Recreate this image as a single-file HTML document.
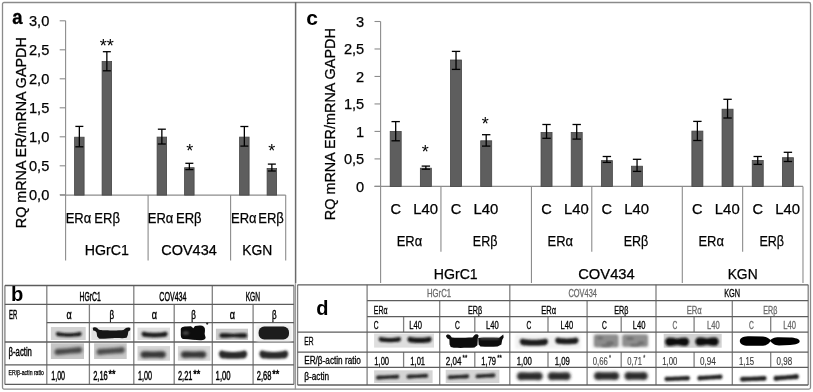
<!DOCTYPE html>
<html><head><meta charset="utf-8"><style>
html,body{margin:0;padding:0;background:#fff;width:813px;height:392px;overflow:hidden}
svg{display:block}
</style></head><body>
<svg width="813" height="392" viewBox="0 0 813 392" font-family='"Liberation Sans", Arial, sans-serif'>
<defs><filter id="bl" x="-20%" y="-50%" width="140%" height="200%"><feGaussianBlur stdDeviation="0.9"/></filter><filter id="bl0" x="-20%" y="-50%" width="140%" height="200%"><feGaussianBlur stdDeviation="0.5"/></filter><filter id="bl2" x="-20%" y="-50%" width="140%" height="200%"><feGaussianBlur stdDeviation="1.4"/></filter></defs>
<rect x="0.00" y="0.00" width="813.00" height="392.00" fill="#fff"/>
<line x1="65.60" y1="20.80" x2="65.60" y2="260.50" stroke="#8c8c8c" stroke-width="1.1"/>
<line x1="59.70" y1="20.80" x2="65.60" y2="20.80" stroke="#8c8c8c" stroke-width="1.1"/>
<text x="49.30" y="26.00" font-size="14.6" text-anchor="end" fill="#000" stroke="#000" stroke-width="0.25">3,0</text>
<line x1="59.70" y1="49.80" x2="65.60" y2="49.80" stroke="#8c8c8c" stroke-width="1.1"/>
<text x="49.30" y="55.00" font-size="14.6" text-anchor="end" fill="#000" stroke="#000" stroke-width="0.25">2,5</text>
<line x1="59.70" y1="78.80" x2="65.60" y2="78.80" stroke="#8c8c8c" stroke-width="1.1"/>
<text x="49.30" y="84.00" font-size="14.6" text-anchor="end" fill="#000" stroke="#000" stroke-width="0.25">2,0</text>
<line x1="59.70" y1="107.80" x2="65.60" y2="107.80" stroke="#8c8c8c" stroke-width="1.1"/>
<text x="49.30" y="113.00" font-size="14.6" text-anchor="end" fill="#000" stroke="#000" stroke-width="0.25">1,5</text>
<line x1="59.70" y1="136.80" x2="65.60" y2="136.80" stroke="#8c8c8c" stroke-width="1.1"/>
<text x="49.30" y="142.00" font-size="14.6" text-anchor="end" fill="#000" stroke="#000" stroke-width="0.25">1,0</text>
<line x1="59.70" y1="165.80" x2="65.60" y2="165.80" stroke="#8c8c8c" stroke-width="1.1"/>
<text x="49.30" y="171.00" font-size="14.6" text-anchor="end" fill="#000" stroke="#000" stroke-width="0.25">0,5</text>
<line x1="59.70" y1="194.80" x2="65.60" y2="194.80" stroke="#8c8c8c" stroke-width="1.1"/>
<text x="49.30" y="200.00" font-size="14.6" text-anchor="end" fill="#000" stroke="#000" stroke-width="0.25">0,0</text>
<line x1="60.00" y1="195.10" x2="285.70" y2="195.10" stroke="#8c8c8c" stroke-width="1.1"/>
<line x1="148.10" y1="195.10" x2="148.10" y2="260.50" stroke="#8c8c8c" stroke-width="1.1"/>
<line x1="230.60" y1="195.10" x2="230.60" y2="260.50" stroke="#8c8c8c" stroke-width="1.1"/>
<line x1="285.70" y1="195.10" x2="285.70" y2="260.50" stroke="#8c8c8c" stroke-width="1.1"/>
<rect x="74.60" y="137.20" width="9.50" height="57.90" fill="#5e5e5e" stroke="#454545" stroke-width="0.8"/>
<line x1="79.35" y1="126.40" x2="79.35" y2="146.80" stroke="#000" stroke-width="1.3"/>
<line x1="75.35" y1="126.40" x2="83.35" y2="126.40" stroke="#000" stroke-width="1.3"/>
<line x1="75.35" y1="146.80" x2="83.35" y2="146.80" stroke="#000" stroke-width="1.3"/>
<rect x="102.10" y="61.50" width="9.50" height="133.60" fill="#5e5e5e" stroke="#454545" stroke-width="0.8"/>
<line x1="106.85" y1="51.70" x2="106.85" y2="70.80" stroke="#000" stroke-width="1.3"/>
<line x1="102.85" y1="51.70" x2="110.85" y2="51.70" stroke="#000" stroke-width="1.3"/>
<line x1="102.85" y1="70.80" x2="110.85" y2="70.80" stroke="#000" stroke-width="1.3"/>
<rect x="157.10" y="137.10" width="9.50" height="58.00" fill="#5e5e5e" stroke="#454545" stroke-width="0.8"/>
<line x1="161.85" y1="129.20" x2="161.85" y2="144.00" stroke="#000" stroke-width="1.3"/>
<line x1="157.85" y1="129.20" x2="165.85" y2="129.20" stroke="#000" stroke-width="1.3"/>
<line x1="157.85" y1="144.00" x2="165.85" y2="144.00" stroke="#000" stroke-width="1.3"/>
<rect x="184.60" y="167.70" width="9.50" height="27.40" fill="#5e5e5e" stroke="#454545" stroke-width="0.8"/>
<line x1="189.35" y1="163.30" x2="189.35" y2="169.60" stroke="#000" stroke-width="1.3"/>
<line x1="185.35" y1="163.30" x2="193.35" y2="163.30" stroke="#000" stroke-width="1.3"/>
<line x1="185.35" y1="169.60" x2="193.35" y2="169.60" stroke="#000" stroke-width="1.3"/>
<rect x="239.60" y="137.10" width="9.50" height="58.00" fill="#5e5e5e" stroke="#454545" stroke-width="0.8"/>
<line x1="244.35" y1="126.50" x2="244.35" y2="146.10" stroke="#000" stroke-width="1.3"/>
<line x1="240.35" y1="126.50" x2="248.35" y2="126.50" stroke="#000" stroke-width="1.3"/>
<line x1="240.35" y1="146.10" x2="248.35" y2="146.10" stroke="#000" stroke-width="1.3"/>
<rect x="267.10" y="168.40" width="9.50" height="26.70" fill="#5e5e5e" stroke="#454545" stroke-width="0.8"/>
<line x1="271.85" y1="164.10" x2="271.85" y2="171.00" stroke="#000" stroke-width="1.3"/>
<line x1="267.85" y1="164.10" x2="275.85" y2="164.10" stroke="#000" stroke-width="1.3"/>
<line x1="267.85" y1="171.00" x2="275.85" y2="171.00" stroke="#000" stroke-width="1.3"/>
<text x="106.85" y="51.50" font-size="18" text-anchor="middle" fill="#000" textLength="14.20" lengthAdjust="spacingAndGlyphs">**</text>
<text x="189.80" y="156.50" font-size="18" text-anchor="middle" fill="#000">*</text>
<text x="271.70" y="157.00" font-size="18" text-anchor="middle" fill="#000">*</text>
<text x="78.50" y="222.70" font-size="14.6" text-anchor="middle" fill="#000" stroke="#000" stroke-width="0.25" textLength="25.60" lengthAdjust="spacingAndGlyphs">ERα</text>
<text x="107.10" y="222.70" font-size="14.6" text-anchor="middle" fill="#000" stroke="#000" stroke-width="0.25" textLength="25.60" lengthAdjust="spacingAndGlyphs">ERβ</text>
<text x="160.60" y="222.70" font-size="14.6" text-anchor="middle" fill="#000" stroke="#000" stroke-width="0.25" textLength="25.60" lengthAdjust="spacingAndGlyphs">ERα</text>
<text x="188.80" y="222.70" font-size="14.6" text-anchor="middle" fill="#000" stroke="#000" stroke-width="0.25" textLength="25.60" lengthAdjust="spacingAndGlyphs">ERβ</text>
<text x="243.80" y="222.70" font-size="14.6" text-anchor="middle" fill="#000" stroke="#000" stroke-width="0.25" textLength="25.60" lengthAdjust="spacingAndGlyphs">ERα</text>
<text x="271.00" y="222.70" font-size="14.6" text-anchor="middle" fill="#000" stroke="#000" stroke-width="0.25" textLength="25.60" lengthAdjust="spacingAndGlyphs">ERβ</text>
<text x="106.85" y="254.90" font-size="14.6" text-anchor="middle" fill="#000" stroke="#000" stroke-width="0.25" textLength="44.20" lengthAdjust="spacingAndGlyphs">HGrC1</text>
<text x="189.00" y="254.90" font-size="14.6" text-anchor="middle" fill="#000" stroke="#000" stroke-width="0.25" textLength="55.50" lengthAdjust="spacingAndGlyphs">COV434</text>
<text x="257.30" y="254.90" font-size="14.6" text-anchor="middle" fill="#000" stroke="#000" stroke-width="0.25" textLength="30.00" lengthAdjust="spacingAndGlyphs">KGN</text>
<text transform="translate(26,228.2) rotate(-90)" font-size="14.6" textLength="191" lengthAdjust="spacingAndGlyphs" stroke="#000" stroke-width="0.25">RQ mRNA ER/mRNA GAPDH</text>
<text x="12.20" y="23.60" font-size="19.5" text-anchor="start" fill="#000" stroke="#000" stroke-width="0.3" font-weight="bold" textLength="10.30" lengthAdjust="spacingAndGlyphs">a</text>
<line x1="380.60" y1="21.50" x2="380.60" y2="283.00" stroke="#8c8c8c" stroke-width="1.1"/>
<line x1="374.50" y1="21.50" x2="380.60" y2="21.50" stroke="#8c8c8c" stroke-width="1.1"/>
<text x="364.20" y="26.70" font-size="14.6" text-anchor="end" fill="#000" stroke="#000" stroke-width="0.25">3</text>
<line x1="374.50" y1="48.98" x2="380.60" y2="48.98" stroke="#8c8c8c" stroke-width="1.1"/>
<text x="364.20" y="54.18" font-size="14.6" text-anchor="end" fill="#000" stroke="#000" stroke-width="0.25">2,5</text>
<line x1="374.50" y1="76.46" x2="380.60" y2="76.46" stroke="#8c8c8c" stroke-width="1.1"/>
<text x="364.20" y="81.66" font-size="14.6" text-anchor="end" fill="#000" stroke="#000" stroke-width="0.25">2</text>
<line x1="374.50" y1="103.94" x2="380.60" y2="103.94" stroke="#8c8c8c" stroke-width="1.1"/>
<text x="364.20" y="109.14" font-size="14.6" text-anchor="end" fill="#000" stroke="#000" stroke-width="0.25">1,5</text>
<line x1="374.50" y1="131.42" x2="380.60" y2="131.42" stroke="#8c8c8c" stroke-width="1.1"/>
<text x="364.20" y="136.62" font-size="14.6" text-anchor="end" fill="#000" stroke="#000" stroke-width="0.25">1</text>
<line x1="374.50" y1="158.90" x2="380.60" y2="158.90" stroke="#8c8c8c" stroke-width="1.1"/>
<text x="364.20" y="164.10" font-size="14.6" text-anchor="end" fill="#000" stroke="#000" stroke-width="0.25">0,5</text>
<line x1="374.50" y1="186.38" x2="380.60" y2="186.38" stroke="#8c8c8c" stroke-width="1.1"/>
<text x="364.20" y="191.58" font-size="14.6" text-anchor="end" fill="#000" stroke="#000" stroke-width="0.25">0</text>
<line x1="374.50" y1="186.40" x2="802.98" y2="186.40" stroke="#8c8c8c" stroke-width="1.1"/>
<line x1="531.45" y1="186.40" x2="531.45" y2="283.00" stroke="#8c8c8c" stroke-width="1.1"/>
<line x1="682.30" y1="186.40" x2="682.30" y2="283.00" stroke="#8c8c8c" stroke-width="1.1"/>
<line x1="802.98" y1="186.40" x2="802.98" y2="283.00" stroke="#8c8c8c" stroke-width="1.1"/>
<line x1="440.94" y1="186.40" x2="440.94" y2="251.80" stroke="#8c8c8c" stroke-width="1.1"/>
<line x1="591.79" y1="186.40" x2="591.79" y2="251.80" stroke="#8c8c8c" stroke-width="1.1"/>
<line x1="742.64" y1="186.40" x2="742.64" y2="251.80" stroke="#8c8c8c" stroke-width="1.1"/>
<rect x="390.19" y="131.40" width="11.00" height="55.00" fill="#5e5e5e" stroke="#454545" stroke-width="0.8"/>
<line x1="395.69" y1="121.60" x2="395.69" y2="140.80" stroke="#000" stroke-width="1.3"/>
<line x1="391.49" y1="121.60" x2="399.88" y2="121.60" stroke="#000" stroke-width="1.3"/>
<line x1="391.49" y1="140.80" x2="399.88" y2="140.80" stroke="#000" stroke-width="1.3"/>
<rect x="420.36" y="168.20" width="11.00" height="18.20" fill="#5e5e5e" stroke="#454545" stroke-width="0.8"/>
<line x1="425.86" y1="166.10" x2="425.86" y2="169.20" stroke="#000" stroke-width="1.3"/>
<line x1="421.66" y1="166.10" x2="430.06" y2="166.10" stroke="#000" stroke-width="1.3"/>
<line x1="421.66" y1="169.20" x2="430.06" y2="169.20" stroke="#000" stroke-width="1.3"/>
<rect x="450.53" y="60.00" width="11.00" height="126.40" fill="#5e5e5e" stroke="#454545" stroke-width="0.8"/>
<line x1="456.03" y1="51.40" x2="456.03" y2="69.40" stroke="#000" stroke-width="1.3"/>
<line x1="451.83" y1="51.40" x2="460.23" y2="51.40" stroke="#000" stroke-width="1.3"/>
<line x1="451.83" y1="69.40" x2="460.23" y2="69.40" stroke="#000" stroke-width="1.3"/>
<rect x="480.70" y="140.80" width="11.00" height="45.60" fill="#5e5e5e" stroke="#454545" stroke-width="0.8"/>
<line x1="486.20" y1="134.70" x2="486.20" y2="146.10" stroke="#000" stroke-width="1.3"/>
<line x1="482.00" y1="134.70" x2="490.40" y2="134.70" stroke="#000" stroke-width="1.3"/>
<line x1="482.00" y1="146.10" x2="490.40" y2="146.10" stroke="#000" stroke-width="1.3"/>
<rect x="541.04" y="132.50" width="11.00" height="53.90" fill="#5e5e5e" stroke="#454545" stroke-width="0.8"/>
<line x1="546.54" y1="124.50" x2="546.54" y2="138.30" stroke="#000" stroke-width="1.3"/>
<line x1="542.34" y1="124.50" x2="550.74" y2="124.50" stroke="#000" stroke-width="1.3"/>
<line x1="542.34" y1="138.30" x2="550.74" y2="138.30" stroke="#000" stroke-width="1.3"/>
<rect x="571.21" y="132.50" width="11.00" height="53.90" fill="#5e5e5e" stroke="#454545" stroke-width="0.8"/>
<line x1="576.71" y1="124.50" x2="576.71" y2="139.10" stroke="#000" stroke-width="1.3"/>
<line x1="572.50" y1="124.50" x2="580.91" y2="124.50" stroke="#000" stroke-width="1.3"/>
<line x1="572.50" y1="139.10" x2="580.91" y2="139.10" stroke="#000" stroke-width="1.3"/>
<rect x="601.38" y="160.60" width="11.00" height="25.80" fill="#5e5e5e" stroke="#454545" stroke-width="0.8"/>
<line x1="606.88" y1="156.50" x2="606.88" y2="162.40" stroke="#000" stroke-width="1.3"/>
<line x1="602.67" y1="156.50" x2="611.08" y2="156.50" stroke="#000" stroke-width="1.3"/>
<line x1="602.67" y1="162.40" x2="611.08" y2="162.40" stroke="#000" stroke-width="1.3"/>
<rect x="631.55" y="166.20" width="11.00" height="20.20" fill="#5e5e5e" stroke="#454545" stroke-width="0.8"/>
<line x1="637.05" y1="159.30" x2="637.05" y2="171.40" stroke="#000" stroke-width="1.3"/>
<line x1="632.85" y1="159.30" x2="641.25" y2="159.30" stroke="#000" stroke-width="1.3"/>
<line x1="632.85" y1="171.40" x2="641.25" y2="171.40" stroke="#000" stroke-width="1.3"/>
<rect x="691.88" y="131.10" width="11.00" height="55.30" fill="#5e5e5e" stroke="#454545" stroke-width="0.8"/>
<line x1="697.38" y1="121.40" x2="697.38" y2="140.50" stroke="#000" stroke-width="1.3"/>
<line x1="693.18" y1="121.40" x2="701.59" y2="121.40" stroke="#000" stroke-width="1.3"/>
<line x1="693.18" y1="140.50" x2="701.59" y2="140.50" stroke="#000" stroke-width="1.3"/>
<rect x="722.06" y="109.20" width="11.00" height="77.20" fill="#5e5e5e" stroke="#454545" stroke-width="0.8"/>
<line x1="727.56" y1="99.30" x2="727.56" y2="118.00" stroke="#000" stroke-width="1.3"/>
<line x1="723.36" y1="99.30" x2="731.76" y2="99.30" stroke="#000" stroke-width="1.3"/>
<line x1="723.36" y1="118.00" x2="731.76" y2="118.00" stroke="#000" stroke-width="1.3"/>
<rect x="752.23" y="160.50" width="11.00" height="25.90" fill="#5e5e5e" stroke="#454545" stroke-width="0.8"/>
<line x1="757.73" y1="156.50" x2="757.73" y2="164.40" stroke="#000" stroke-width="1.3"/>
<line x1="753.52" y1="156.50" x2="761.93" y2="156.50" stroke="#000" stroke-width="1.3"/>
<line x1="753.52" y1="164.40" x2="761.93" y2="164.40" stroke="#000" stroke-width="1.3"/>
<rect x="782.39" y="157.70" width="11.00" height="28.70" fill="#5e5e5e" stroke="#454545" stroke-width="0.8"/>
<line x1="787.89" y1="152.30" x2="787.89" y2="161.50" stroke="#000" stroke-width="1.3"/>
<line x1="783.69" y1="152.30" x2="792.10" y2="152.30" stroke="#000" stroke-width="1.3"/>
<line x1="783.69" y1="161.50" x2="792.10" y2="161.50" stroke="#000" stroke-width="1.3"/>
<text x="425.20" y="157.60" font-size="18" text-anchor="middle" fill="#000">*</text>
<text x="485.30" y="130.20" font-size="18" text-anchor="middle" fill="#000">*</text>
<text x="395.69" y="214.30" font-size="14.6" text-anchor="middle" fill="#000" stroke="#000" stroke-width="0.25">C</text>
<text x="425.56" y="214.30" font-size="14.6" text-anchor="middle" fill="#000" stroke="#000" stroke-width="0.25" textLength="24.80" lengthAdjust="spacingAndGlyphs">L40</text>
<text x="456.03" y="214.30" font-size="14.6" text-anchor="middle" fill="#000" stroke="#000" stroke-width="0.25">C</text>
<text x="485.90" y="214.30" font-size="14.6" text-anchor="middle" fill="#000" stroke="#000" stroke-width="0.25" textLength="24.80" lengthAdjust="spacingAndGlyphs">L40</text>
<text x="409.47" y="246.40" font-size="14.6" text-anchor="middle" fill="#000" stroke="#000" stroke-width="0.25" textLength="25.50" lengthAdjust="spacingAndGlyphs">ERα</text>
<text x="485.10" y="246.40" font-size="14.6" text-anchor="middle" fill="#000" stroke="#000" stroke-width="0.25" textLength="24.60" lengthAdjust="spacingAndGlyphs">ERβ</text>
<text x="546.54" y="214.30" font-size="14.6" text-anchor="middle" fill="#000" stroke="#000" stroke-width="0.25">C</text>
<text x="576.41" y="214.30" font-size="14.6" text-anchor="middle" fill="#000" stroke="#000" stroke-width="0.25" textLength="24.80" lengthAdjust="spacingAndGlyphs">L40</text>
<text x="606.88" y="214.30" font-size="14.6" text-anchor="middle" fill="#000" stroke="#000" stroke-width="0.25">C</text>
<text x="636.75" y="214.30" font-size="14.6" text-anchor="middle" fill="#000" stroke="#000" stroke-width="0.25" textLength="24.80" lengthAdjust="spacingAndGlyphs">L40</text>
<text x="560.32" y="246.40" font-size="14.6" text-anchor="middle" fill="#000" stroke="#000" stroke-width="0.25" textLength="25.50" lengthAdjust="spacingAndGlyphs">ERα</text>
<text x="635.95" y="246.40" font-size="14.6" text-anchor="middle" fill="#000" stroke="#000" stroke-width="0.25" textLength="24.60" lengthAdjust="spacingAndGlyphs">ERβ</text>
<text x="697.38" y="214.30" font-size="14.6" text-anchor="middle" fill="#000" stroke="#000" stroke-width="0.25">C</text>
<text x="727.26" y="214.30" font-size="14.6" text-anchor="middle" fill="#000" stroke="#000" stroke-width="0.25" textLength="24.80" lengthAdjust="spacingAndGlyphs">L40</text>
<text x="757.73" y="214.30" font-size="14.6" text-anchor="middle" fill="#000" stroke="#000" stroke-width="0.25">C</text>
<text x="787.60" y="214.30" font-size="14.6" text-anchor="middle" fill="#000" stroke="#000" stroke-width="0.25" textLength="24.80" lengthAdjust="spacingAndGlyphs">L40</text>
<text x="711.17" y="246.40" font-size="14.6" text-anchor="middle" fill="#000" stroke="#000" stroke-width="0.25" textLength="25.50" lengthAdjust="spacingAndGlyphs">ERα</text>
<text x="771.71" y="246.40" font-size="14.6" text-anchor="middle" fill="#000" stroke="#000" stroke-width="0.25" textLength="24.60" lengthAdjust="spacingAndGlyphs">ERβ</text>
<text x="455.73" y="279.20" font-size="14.6" text-anchor="middle" fill="#000" stroke="#000" stroke-width="0.25" textLength="44.00" lengthAdjust="spacingAndGlyphs">HGrC1</text>
<text x="606.48" y="279.20" font-size="14.6" text-anchor="middle" fill="#000" stroke="#000" stroke-width="0.25" textLength="56.50" lengthAdjust="spacingAndGlyphs">COV434</text>
<text x="742.64" y="279.20" font-size="14.6" text-anchor="middle" fill="#000" stroke="#000" stroke-width="0.25" textLength="30.00" lengthAdjust="spacingAndGlyphs">KGN</text>
<text transform="translate(335.4,220.2) rotate(-90)" font-size="14.6" textLength="192" lengthAdjust="spacingAndGlyphs" stroke="#000" stroke-width="0.25">RQ mRNA ER/mRNA GAPDH</text>
<text x="306.20" y="25.00" font-size="21" text-anchor="start" fill="#000" font-weight="bold">c</text>
<rect x="2.5" y="2.5" width="808" height="386.6" fill="none" stroke="#8a8a8a" stroke-width="1.3" rx="1.5"/>
<line x1="295.60" y1="2.00" x2="295.60" y2="283.20" stroke="#6a6a6a" stroke-width="1.5"/>
<line x1="295.40" y1="283.20" x2="295.40" y2="389.50" stroke="#9a9a9a" stroke-width="1.3"/>
<line x1="4.90" y1="285.50" x2="4.90" y2="384.40" stroke="#808080" stroke-width="1.3"/>
<line x1="46.80" y1="285.50" x2="46.80" y2="384.40" stroke="#808080" stroke-width="1.3"/>
<line x1="89.40" y1="304.40" x2="89.40" y2="384.40" stroke="#808080" stroke-width="1.3"/>
<line x1="133.80" y1="285.50" x2="133.80" y2="384.40" stroke="#808080" stroke-width="1.3"/>
<line x1="174.20" y1="304.40" x2="174.20" y2="384.40" stroke="#808080" stroke-width="1.3"/>
<line x1="212.30" y1="285.50" x2="212.30" y2="384.40" stroke="#808080" stroke-width="1.3"/>
<line x1="253.10" y1="304.40" x2="253.10" y2="384.40" stroke="#808080" stroke-width="1.3"/>
<line x1="293.90" y1="285.50" x2="293.90" y2="384.40" stroke="#808080" stroke-width="1.3"/>
<line x1="4.90" y1="285.50" x2="293.90" y2="285.50" stroke="#5c5c5c" stroke-width="1.3"/>
<line x1="4.90" y1="304.40" x2="293.90" y2="304.40" stroke="#5c5c5c" stroke-width="1.3"/>
<line x1="46.80" y1="322.70" x2="293.90" y2="322.70" stroke="#5c5c5c" stroke-width="1.3"/>
<line x1="4.90" y1="342.00" x2="293.90" y2="342.00" stroke="#5c5c5c" stroke-width="1.3"/>
<line x1="4.90" y1="364.90" x2="293.90" y2="364.90" stroke="#5c5c5c" stroke-width="1.3"/>
<line x1="4.90" y1="384.40" x2="293.90" y2="384.40" stroke="#5c5c5c" stroke-width="1.3"/>
<text x="11.00" y="300.60" font-size="19.6" text-anchor="start" fill="#000" font-weight="bold" textLength="12.30" lengthAdjust="spacingAndGlyphs">b</text>
<text x="90.10" y="300.70" font-size="12.6" text-anchor="middle" fill="#000" textLength="21.20" lengthAdjust="spacingAndGlyphs" stroke="#000" stroke-width="0.45">HGrC1</text>
<text x="172.90" y="300.70" font-size="12.6" text-anchor="middle" fill="#000" textLength="27.20" lengthAdjust="spacingAndGlyphs" stroke="#000" stroke-width="0.45">COV434</text>
<text x="252.90" y="300.70" font-size="12.6" text-anchor="middle" fill="#000" textLength="14.40" lengthAdjust="spacingAndGlyphs" stroke="#000" stroke-width="0.45">KGN</text>
<text x="8.90" y="318.60" font-size="12.4" text-anchor="start" fill="#000" textLength="8.30" lengthAdjust="spacingAndGlyphs" stroke="#000" stroke-width="0.45">ER</text>
<text x="69.00" y="318.50" font-size="12.6" text-anchor="middle" fill="#000" textLength="5.20" lengthAdjust="spacingAndGlyphs" stroke="#000" stroke-width="0.45">α</text>
<text x="111.70" y="318.50" font-size="12.6" text-anchor="middle" fill="#000" textLength="4.60" lengthAdjust="spacingAndGlyphs" stroke="#000" stroke-width="0.45">β</text>
<text x="154.30" y="318.50" font-size="12.6" text-anchor="middle" fill="#000" textLength="5.20" lengthAdjust="spacingAndGlyphs" stroke="#000" stroke-width="0.45">α</text>
<text x="193.60" y="318.50" font-size="12.6" text-anchor="middle" fill="#000" textLength="4.60" lengthAdjust="spacingAndGlyphs" stroke="#000" stroke-width="0.45">β</text>
<text x="232.30" y="318.50" font-size="12.6" text-anchor="middle" fill="#000" textLength="5.20" lengthAdjust="spacingAndGlyphs" stroke="#000" stroke-width="0.45">α</text>
<text x="274.30" y="318.50" font-size="12.6" text-anchor="middle" fill="#000" textLength="4.60" lengthAdjust="spacingAndGlyphs" stroke="#000" stroke-width="0.45">β</text>
<text x="8.60" y="356.40" font-size="12.4" text-anchor="start" fill="#000" textLength="23.30" lengthAdjust="spacingAndGlyphs" stroke="#000" stroke-width="0.45">β-actin</text>
<text x="8.60" y="375.00" font-size="6.6" text-anchor="start" fill="#000" stroke="#000" stroke-width="0.25" textLength="35.20" lengthAdjust="spacingAndGlyphs">ER/β-actin ratio</text>
<text x="51.20" y="380.00" font-size="12.6" text-anchor="start" fill="#000" textLength="13.90" lengthAdjust="spacingAndGlyphs" stroke="#000" stroke-width="0.45">1,00</text>
<text x="93.20" y="380.00" font-size="12.6" text-anchor="start" fill="#000" textLength="14.60" lengthAdjust="spacingAndGlyphs" stroke="#000" stroke-width="0.45">2,16</text>
<text x="108.60" y="378.20" font-size="11" text-anchor="start" fill="#000" textLength="7.00" lengthAdjust="spacingAndGlyphs" stroke="#000" stroke-width="0.45">**</text>
<text x="137.90" y="380.00" font-size="12.6" text-anchor="start" fill="#000" textLength="14.10" lengthAdjust="spacingAndGlyphs" stroke="#000" stroke-width="0.45">1,00</text>
<text x="178.00" y="380.00" font-size="12.6" text-anchor="start" fill="#000" textLength="14.40" lengthAdjust="spacingAndGlyphs" stroke="#000" stroke-width="0.45">2,21</text>
<text x="193.20" y="378.20" font-size="11" text-anchor="start" fill="#000" textLength="7.00" lengthAdjust="spacingAndGlyphs" stroke="#000" stroke-width="0.45">**</text>
<text x="215.60" y="380.00" font-size="12.6" text-anchor="start" fill="#000" textLength="15.00" lengthAdjust="spacingAndGlyphs" stroke="#000" stroke-width="0.45">1,00</text>
<text x="256.80" y="380.00" font-size="12.6" text-anchor="start" fill="#000" textLength="14.60" lengthAdjust="spacingAndGlyphs" stroke="#000" stroke-width="0.45">2,68</text>
<text x="272.20" y="378.20" font-size="11" text-anchor="start" fill="#000" textLength="7.00" lengthAdjust="spacingAndGlyphs" stroke="#000" stroke-width="0.45">**</text>
<rect x="50.90" y="327.00" width="34.80" height="13.00" fill="#d2d2d2" filter="url(#bl0)"/>
<path d="M55.80,333.70 L56.88,332.06 L57.97,332.05 L59.05,332.29 L60.13,332.50 L61.22,332.69 L62.30,332.85 L63.38,332.99 L64.47,333.10 L65.55,333.19 L66.63,333.25 L67.72,333.29 L68.80,333.30 L69.88,333.29 L70.97,333.25 L72.05,333.19 L73.13,333.10 L74.22,332.99 L75.30,332.85 L76.38,332.69 L77.47,332.50 L78.55,332.29 L79.63,332.05 L80.72,332.06 L81.80,333.70 L81.80,333.70 L80.72,335.76 L79.63,336.14 L78.55,336.25 L77.47,336.34 L76.38,336.43 L75.30,336.50 L74.22,336.56 L73.13,336.61 L72.05,336.65 L70.97,336.68 L69.88,336.69 L68.80,336.70 L67.72,336.69 L66.63,336.68 L65.55,336.65 L64.47,336.61 L63.38,336.56 L62.30,336.50 L61.22,336.43 L60.13,336.34 L59.05,336.25 L57.97,336.14 L56.88,335.76 L55.80,333.70Z" fill="#141414" filter="url(#bl)"/>
<rect x="91.30" y="327.00" width="39.30" height="13.00" fill="#e2e2e2" filter="url(#bl0)"/>
<path d="M92.8,328.6 C92.8,327.2 95.5,326.9 97.2,327.9 L98.6,329.6 C100,330.4 104,330.2 110,330.4 C116,330.6 120,330.2 123.5,330 L125.2,328.4 C126.8,327.2 130,327 130.4,328.4 L130.2,330.2 L128.3,331.6 L127.8,335 L126.6,337.8 C122,338.6 118,337.6 112,338.3 C106,338.9 101,338.8 99,338.4 L97.2,336.6 L96.6,332.5 L95.2,331 L93.2,330.4 Z" fill="#181818" filter="url(#bl0)"/>
<rect x="137.50" y="327.60" width="32.50" height="12.40" fill="#dedede" filter="url(#bl0)"/>
<path d="M141.40,333.80 L142.50,331.87 L143.60,331.65 L144.70,331.84 L145.80,332.04 L146.90,332.22 L148.00,332.38 L149.10,332.50 L150.20,332.61 L151.30,332.69 L152.40,332.75 L153.50,332.79 L154.60,332.80 L155.70,332.79 L156.80,332.75 L157.90,332.69 L159.00,332.61 L160.10,332.50 L161.20,332.38 L162.30,332.22 L163.40,332.04 L164.50,331.84 L165.60,331.65 L166.70,331.87 L167.80,333.80 L167.80,333.80 L166.70,336.15 L165.60,336.75 L164.50,336.89 L163.40,337.00 L162.30,337.09 L161.20,337.18 L160.10,337.24 L159.00,337.30 L157.90,337.34 L156.80,337.38 L155.70,337.39 L154.60,337.40 L153.50,337.39 L152.40,337.38 L151.30,337.34 L150.20,337.30 L149.10,337.24 L148.00,337.18 L146.90,337.09 L145.80,337.00 L144.70,336.89 L143.60,336.75 L142.50,336.15 L141.40,333.80Z" fill="#1e1e1e" filter="url(#bl)"/>
<path d="M180.8,330 C180.5,327.5 183,326.6 186,326.6 L191,326.3 L193.3,328.3 L195,326 L200,325.5 C203.5,325.5 205,327 205,330 L204.6,334 L205.6,337.6 C205.5,340 203,340.4 200,340.2 L193,339.7 L188,339.3 L183,339 C181,338.6 180.6,336 180.8,333 Z" fill="#080808" filter="url(#bl0)"/>
<ellipse cx="185.8" cy="333" rx="3.2" ry="1.8" fill="#4a4a4a" filter="url(#bl)"/><circle cx="207.2" cy="323.6" r="1.1" fill="#222" filter="url(#bl0)"/>
<rect x="215.90" y="328.70" width="32.10" height="11.30" fill="#cacaca" filter="url(#bl0)"/>
<path d="M219.30,335.50 L220.47,333.47 L221.64,333.19 L222.81,333.23 L223.98,333.27 L225.15,333.30 L226.33,333.33 L227.50,333.37 L228.67,333.43 L229.84,333.51 L231.01,333.62 L232.18,333.71 L233.35,333.75 L234.52,333.71 L235.69,333.62 L236.86,333.51 L238.03,333.43 L239.20,333.37 L240.38,333.33 L241.55,333.30 L242.72,333.27 L243.89,333.23 L245.06,333.19 L246.23,333.47 L247.40,335.50 L247.40,335.50 L246.23,337.53 L245.06,337.81 L243.89,337.77 L242.72,337.73 L241.55,337.70 L240.38,337.67 L239.20,337.63 L238.03,337.57 L236.86,337.49 L235.69,337.38 L234.52,337.29 L233.35,337.25 L232.18,337.29 L231.01,337.38 L229.84,337.49 L228.67,337.57 L227.50,337.63 L226.33,337.67 L225.15,337.70 L223.98,337.73 L222.81,337.77 L221.64,337.81 L220.47,337.53 L219.30,335.50Z" fill="#161616" filter="url(#bl)"/>
<rect x="256.50" y="325.00" width="35.00" height="16.50" fill="#ececec" filter="url(#bl2)"/>
<rect x="258.60" y="326.60" width="30.40" height="12.80" rx="5.5" fill="#1c1c1c" filter="url(#bl0)"/>
<rect x="50.90" y="343.30" width="33.10" height="15.70" fill="#c6c6c6" filter="url(#bl0)"/>
<path d="M54.30,352.20 L55.47,349.62 L56.64,348.96 L57.81,348.82 L58.98,348.78 L60.15,348.73 L61.33,348.68 L62.50,348.61 L63.67,348.54 L64.84,348.47 L66.01,348.39 L67.18,348.30 L68.35,348.20 L69.52,348.10 L70.69,347.99 L71.86,347.87 L73.03,347.74 L74.20,347.61 L75.38,347.47 L76.55,347.33 L77.72,347.18 L78.89,347.02 L80.06,346.96 L81.23,347.42 L82.40,349.80 L82.40,349.80 L81.23,352.38 L80.06,353.04 L78.89,353.18 L77.72,353.22 L76.55,353.27 L75.38,353.32 L74.20,353.39 L73.03,353.46 L71.86,353.53 L70.69,353.61 L69.52,353.70 L68.35,353.80 L67.18,353.90 L66.01,354.01 L64.84,354.13 L63.67,354.26 L62.50,354.39 L61.33,354.53 L60.15,354.67 L58.98,354.82 L57.81,354.98 L56.64,355.04 L55.47,354.58 L54.30,352.20Z" fill="#474747" filter="url(#bl2)"/>
<rect x="94.10" y="343.30" width="32.60" height="15.70" fill="#c8c8c8" filter="url(#bl0)"/>
<path d="M96.40,352.10 L97.59,349.51 L98.78,348.86 L99.98,348.74 L101.17,348.71 L102.36,348.67 L103.55,348.62 L104.74,348.57 L105.93,348.51 L107.12,348.44 L108.32,348.37 L109.51,348.29 L110.70,348.20 L111.89,348.10 L113.08,348.00 L114.28,347.89 L115.47,347.78 L116.66,347.65 L117.85,347.52 L119.04,347.39 L120.23,347.24 L121.42,347.09 L122.62,347.03 L123.81,347.49 L125.00,349.90 L125.00,349.90 L123.81,352.49 L122.62,353.14 L121.42,353.26 L120.23,353.29 L119.04,353.33 L117.85,353.38 L116.66,353.43 L115.47,353.49 L114.28,353.56 L113.08,353.63 L111.89,353.71 L110.70,353.80 L109.51,353.90 L108.32,354.00 L107.12,354.11 L105.93,354.22 L104.74,354.35 L103.55,354.48 L102.36,354.61 L101.17,354.76 L99.98,354.91 L98.78,354.97 L97.59,354.51 L96.40,352.10Z" fill="#4a4a4a" filter="url(#bl2)"/>
<rect x="137.50" y="346.10" width="32.50" height="14.60" fill="#d4d4d4" filter="url(#bl0)"/>
<path d="M140.30,354.60 L141.38,352.10 L142.45,351.43 L143.53,351.23 L144.60,351.27 L145.68,351.30 L146.75,351.33 L147.83,351.35 L148.90,351.37 L149.97,351.38 L151.05,351.39 L152.12,351.40 L153.20,351.40 L154.28,351.40 L155.35,351.39 L156.43,351.38 L157.50,351.37 L158.57,351.35 L159.65,351.33 L160.72,351.30 L161.80,351.27 L162.88,351.23 L163.95,351.43 L165.03,352.10 L166.10,354.60 L166.10,354.60 L165.03,357.10 L163.95,357.77 L162.88,357.97 L161.80,357.93 L160.72,357.90 L159.65,357.88 L158.57,357.85 L157.50,357.83 L156.43,357.82 L155.35,357.81 L154.28,357.80 L153.20,357.80 L152.12,357.80 L151.05,357.81 L149.97,357.82 L148.90,357.83 L147.83,357.85 L146.75,357.88 L145.68,357.90 L144.60,357.93 L143.53,357.97 L142.45,357.77 L141.38,357.10 L140.30,354.60Z" fill="#363636" filter="url(#bl2)"/>
<rect x="177.90" y="346.10" width="32.50" height="14.60" fill="#d8d8d8" filter="url(#bl0)"/>
<path d="M180.70,354.60 L181.77,352.10 L182.85,351.43 L183.92,351.23 L185.00,351.27 L186.07,351.30 L187.15,351.33 L188.22,351.35 L189.30,351.37 L190.38,351.38 L191.45,351.39 L192.53,351.40 L193.60,351.40 L194.67,351.40 L195.75,351.39 L196.82,351.38 L197.90,351.37 L198.97,351.35 L200.05,351.33 L201.12,351.30 L202.20,351.27 L203.28,351.23 L204.35,351.43 L205.43,352.10 L206.50,354.60 L206.50,354.60 L205.43,357.10 L204.35,357.77 L203.28,357.97 L202.20,357.93 L201.12,357.90 L200.05,357.88 L198.97,357.85 L197.90,357.83 L196.82,357.82 L195.75,357.81 L194.67,357.80 L193.60,357.80 L192.53,357.80 L191.45,357.81 L190.38,357.82 L189.30,357.83 L188.22,357.85 L187.15,357.88 L186.07,357.90 L185.00,357.93 L183.92,357.97 L182.85,357.77 L181.77,357.10 L180.70,354.60Z" fill="#363636" filter="url(#bl2)"/>
<path d="M218.70,353.80 L219.90,351.14 L221.09,350.61 L222.29,350.61 L223.48,350.89 L224.68,351.15 L225.88,351.38 L227.07,351.57 L228.27,351.72 L229.46,351.84 L230.66,351.93 L231.85,351.98 L233.05,352.00 L234.25,351.98 L235.44,351.93 L236.64,351.84 L237.83,351.72 L239.03,351.57 L240.22,351.38 L241.42,351.15 L242.62,350.89 L243.81,350.61 L245.01,350.61 L246.20,351.14 L247.40,353.80 L247.40,353.80 L246.20,356.97 L245.01,357.97 L243.81,358.39 L242.62,358.49 L241.42,358.56 L240.22,358.62 L239.03,358.68 L237.83,358.72 L236.64,358.76 L235.44,358.78 L234.25,358.80 L233.05,358.80 L231.85,358.80 L230.66,358.78 L229.46,358.76 L228.27,358.72 L227.07,358.68 L225.88,358.62 L224.68,358.56 L223.48,358.49 L222.29,358.39 L221.09,357.97 L219.90,356.97 L218.70,353.80Z" fill="#2a2a2a" filter="url(#bl)"/>
<path d="M259.20,353.80 L260.42,351.12 L261.63,350.59 L262.85,350.60 L264.07,350.89 L265.28,351.15 L266.50,351.38 L267.72,351.57 L268.93,351.72 L270.15,351.84 L271.37,351.93 L272.58,351.98 L273.80,352.00 L275.02,351.98 L276.23,351.93 L277.45,351.84 L278.67,351.72 L279.88,351.57 L281.10,351.38 L282.32,351.15 L283.53,350.89 L284.75,350.60 L285.97,350.59 L287.18,351.12 L288.40,353.80 L288.40,353.80 L287.18,356.99 L285.97,357.99 L284.75,358.40 L283.53,358.49 L282.32,358.56 L281.10,358.62 L279.88,358.68 L278.67,358.72 L277.45,358.76 L276.23,358.78 L275.02,358.80 L273.80,358.80 L272.58,358.80 L271.37,358.78 L270.15,358.76 L268.93,358.72 L267.72,358.68 L266.50,358.62 L265.28,358.56 L264.07,358.49 L262.85,358.40 L261.63,357.99 L260.42,356.99 L259.20,353.80Z" fill="#2a2a2a" filter="url(#bl)"/>
<rect x="374.10" y="333.60" width="59.90" height="14.00" fill="#dedede" filter="url(#bl0)"/>
<path d="M378.50,338.90 L379.45,337.21 L380.39,337.00 L381.34,337.16 L382.28,337.33 L383.23,337.49 L384.18,337.62 L385.12,337.74 L386.07,337.83 L387.01,337.91 L387.96,337.96 L388.90,337.99 L389.85,338.00 L390.80,337.99 L391.74,337.96 L392.69,337.91 L393.63,337.83 L394.58,337.74 L395.52,337.62 L396.47,337.49 L397.42,337.33 L398.36,337.16 L399.31,337.00 L400.25,337.21 L401.20,338.90 L401.20,338.90 L400.25,340.98 L399.31,341.54 L398.36,341.69 L397.42,341.80 L396.47,341.89 L395.52,341.98 L394.58,342.04 L393.63,342.10 L392.69,342.14 L391.74,342.18 L390.80,342.19 L389.85,342.20 L388.90,342.19 L387.96,342.18 L387.01,342.14 L386.07,342.10 L385.12,342.04 L384.18,341.98 L383.23,341.89 L382.28,341.80 L381.34,341.69 L380.39,341.54 L379.45,340.98 L378.50,338.90Z" fill="#151515" filter="url(#bl)"/>
<path d="M407.30,339.20 L408.32,337.21 L409.34,336.87 L410.36,336.96 L411.38,337.13 L412.40,337.29 L413.43,337.42 L414.45,337.54 L415.47,337.63 L416.49,337.71 L417.51,337.76 L418.53,337.79 L419.55,337.80 L420.57,337.79 L421.59,337.76 L422.61,337.71 L423.63,337.63 L424.65,337.54 L425.68,337.42 L426.70,337.29 L427.72,337.13 L428.74,336.96 L429.76,336.87 L430.78,337.21 L431.80,339.20 L431.80,339.20 L430.78,341.58 L429.76,342.27 L428.74,342.49 L427.72,342.60 L426.70,342.69 L425.68,342.77 L424.65,342.84 L423.63,342.90 L422.61,342.94 L421.59,342.97 L420.57,342.99 L419.55,343.00 L418.53,342.99 L417.51,342.97 L416.49,342.94 L415.47,342.90 L414.45,342.84 L413.43,342.77 L412.40,342.69 L411.38,342.60 L410.36,342.49 L409.34,342.27 L408.32,341.58 L407.30,339.20Z" fill="#121212" filter="url(#bl)"/>
<path d="M446,336.2 C446,334.2 449,333.8 450.3,335.4 L451.8,337.6 C458,338 466,337.6 472.5,337.4 L474.3,335.2 C475.5,333.8 478.4,334 478.6,336 L477.8,338.6 L477.4,345.2 L474.5,347.5 C468,347.9 460,348 454,347.8 L450.8,347 L449.6,344.5 L449.4,339.6 L447.2,338.2 Z" fill="#0a0a0a" filter="url(#bl0)"/>
<path d="M478.2,338 C484,337.4 492,337.5 499,337.8 L501.4,336 L503.2,334.4 L503.7,337.2 L502.2,340 L501.4,344.4 L497.6,346.5 C492,346.9 486,346.9 480.5,346.4 L478.6,344.5 Z" fill="#111" filter="url(#bl0)"/>
<rect x="480" y="337.4" width="19" height="2" fill="#8a8a8a" opacity="0.5" filter="url(#bl)"/>
<rect x="515.50" y="334.50" width="65.00" height="14.00" fill="#f0f0f0" filter="url(#bl2)"/>
<path d="M519.60,341.50 L520.79,339.11 L521.98,338.69 L523.18,338.79 L524.37,339.00 L525.56,339.19 L526.75,339.35 L527.94,339.49 L529.13,339.60 L530.33,339.69 L531.52,339.75 L532.71,339.79 L533.90,339.80 L535.09,339.79 L536.28,339.75 L537.48,339.69 L538.67,339.60 L539.86,339.49 L541.05,339.35 L542.24,339.19 L543.43,339.00 L544.62,338.79 L545.82,338.69 L547.01,339.11 L548.20,341.50 L548.20,341.50 L547.01,344.30 L545.82,345.10 L544.62,345.35 L543.43,345.44 L542.24,345.53 L541.05,345.60 L539.86,345.66 L538.67,345.71 L537.48,345.75 L536.28,345.78 L535.09,345.79 L533.90,345.80 L532.71,345.79 L531.52,345.78 L530.33,345.75 L529.13,345.71 L527.94,345.66 L526.75,345.60 L525.56,345.53 L524.37,345.44 L523.18,345.35 L521.98,345.10 L520.79,344.30 L519.60,341.50Z" fill="#1e1e1e" filter="url(#bl)"/>
<path d="M555.00,340.30 L555.99,338.13 L556.98,337.66 L557.96,337.62 L558.95,337.78 L559.94,337.92 L560.92,338.05 L561.91,338.16 L562.90,338.24 L563.89,338.31 L564.88,338.36 L565.86,338.39 L566.85,338.40 L567.84,338.39 L568.83,338.36 L569.81,338.31 L570.80,338.24 L571.79,338.16 L572.78,338.05 L573.76,337.92 L574.75,337.78 L575.74,337.62 L576.73,337.66 L577.71,338.13 L578.70,340.30 L578.70,340.30 L577.71,342.79 L576.73,343.55 L575.74,343.86 L574.75,343.93 L573.76,344.00 L572.78,344.05 L571.79,344.10 L570.80,344.13 L569.81,344.16 L568.83,344.18 L567.84,344.20 L566.85,344.20 L565.86,344.20 L564.88,344.18 L563.89,344.16 L562.90,344.13 L561.91,344.10 L560.92,344.05 L559.94,344.00 L558.95,343.93 L557.96,343.86 L556.98,343.55 L555.99,342.79 L555.00,340.30Z" fill="#1e1e1e" filter="url(#bl)"/>
<rect x="592.00" y="333.50" width="57.00" height="14.50" fill="#e8e8e8" filter="url(#bl2)"/>
<rect x="594.00" y="334.60" width="24.40" height="12.60" rx="2.5" fill="#8c8c8c" filter="url(#bl)"/>
<rect x="622.30" y="334.40" width="25.60" height="12.40" rx="2.5" fill="#8e8e8e" filter="url(#bl)"/>
<g fill="#6e6e6e" filter="url(#bl)"><ellipse cx="600" cy="338" rx="3" ry="1.6"/><ellipse cx="610" cy="343" rx="4" ry="1.8"/><ellipse cx="630" cy="338.5" rx="4" ry="1.6"/><ellipse cx="641" cy="343" rx="3.5" ry="1.7"/><ellipse cx="606" cy="345.5" rx="5" ry="1.2"/><ellipse cx="635" cy="345" rx="5" ry="1.2"/></g>
<rect x="663.70" y="333.90" width="58.00" height="13.80" fill="#d2d2d2" filter="url(#bl0)"/>
<path d="M665.00,341.80 L666.01,338.98 L667.02,338.13 L668.04,337.70 L669.05,337.58 L670.06,337.63 L671.08,337.69 L672.09,337.76 L673.10,337.87 L674.11,338.04 L675.12,338.27 L676.14,338.47 L677.15,338.55 L678.16,338.47 L679.17,338.27 L680.19,338.04 L681.20,337.87 L682.21,337.76 L683.22,337.69 L684.24,337.63 L685.25,337.58 L686.26,337.70 L687.27,338.13 L688.29,338.98 L689.30,341.80 L689.30,341.80 L688.29,344.62 L687.27,345.47 L686.26,345.90 L685.25,346.02 L684.24,345.97 L683.22,345.91 L682.21,345.84 L681.20,345.73 L680.19,345.56 L679.17,345.33 L678.16,345.13 L677.15,345.05 L676.14,345.13 L675.12,345.33 L674.11,345.56 L673.10,345.73 L672.09,345.84 L671.08,345.91 L670.06,345.97 L669.05,346.02 L668.04,345.90 L667.02,345.47 L666.01,344.62 L665.00,341.80Z" fill="#0c0c0c" filter="url(#bl)"/>
<path d="M695.20,341.60 L696.18,338.82 L697.17,337.96 L698.15,337.53 L699.13,337.39 L700.12,337.43 L701.10,337.49 L702.08,337.56 L703.07,337.67 L704.05,337.84 L705.03,338.07 L706.02,338.27 L707.00,338.35 L707.98,338.27 L708.97,338.07 L709.95,337.84 L710.93,337.67 L711.92,337.56 L712.90,337.49 L713.88,337.43 L714.87,337.39 L715.85,337.53 L716.83,337.96 L717.82,338.82 L718.80,341.60 L718.80,341.60 L717.82,344.38 L716.83,345.24 L715.85,345.67 L714.87,345.81 L713.88,345.77 L712.90,345.71 L711.92,345.64 L710.93,345.53 L709.95,345.36 L708.97,345.13 L707.98,344.93 L707.00,344.85 L706.02,344.93 L705.03,345.13 L704.05,345.36 L703.07,345.53 L702.08,345.64 L701.10,345.71 L700.12,345.77 L699.13,345.81 L698.15,345.67 L697.17,345.24 L696.18,344.38 L695.20,341.60Z" fill="#0c0c0c" filter="url(#bl)"/>
<path d="M739.8,341 C739.8,337.5 744,336.2 750,336.2 L763,336.4 C767,336.6 769.5,338.5 771,340.6 C769.5,343 767,345.6 763,345.8 L748,345.8 C743,345.8 739.8,344 739.8,341 Z" fill="#050505" filter="url(#bl0)"/>
<path d="M770,340.6 C771.5,338.5 774,337.2 779,337.2 L790,337.6 C795,337.8 799.7,339 799.7,341.3 C799.7,343.5 796,344.6 790,345 L779,345.5 C774,345.5 771.5,343 770,340.6 Z" fill="#050505" filter="url(#bl0)"/>
<rect x="374.10" y="370.30" width="58.50" height="12.70" fill="#d4d4d4" filter="url(#bl0)"/>
<path d="M375.90,377.70 L376.88,375.85 L377.86,375.53 L378.84,375.53 L379.82,375.52 L380.80,375.51 L381.77,375.50 L382.75,375.48 L383.73,375.46 L384.71,375.43 L385.69,375.39 L386.67,375.35 L387.65,375.30 L388.63,375.25 L389.61,375.19 L390.59,375.13 L391.57,375.06 L392.55,374.98 L393.52,374.90 L394.50,374.81 L395.48,374.72 L396.46,374.63 L397.44,374.53 L398.42,374.75 L399.40,376.50 L399.40,376.50 L398.42,378.35 L397.44,378.67 L396.46,378.68 L395.48,378.68 L394.50,378.69 L393.52,378.70 L392.55,378.72 L391.57,378.74 L390.59,378.78 L389.61,378.81 L388.63,378.85 L387.65,378.90 L386.67,378.95 L385.69,379.01 L384.71,379.07 L383.73,379.14 L382.75,379.22 L381.77,379.30 L380.80,379.39 L379.82,379.48 L378.84,379.57 L377.86,379.67 L376.88,379.45 L375.90,377.70Z" fill="#262626" filter="url(#bl)"/>
<path d="M406.40,376.80 L407.31,375.00 L408.22,374.64 L409.14,374.62 L410.05,374.62 L410.96,374.61 L411.88,374.60 L412.79,374.58 L413.70,374.56 L414.61,374.52 L415.52,374.49 L416.44,374.45 L417.35,374.40 L418.26,374.35 L419.18,374.29 L420.09,374.23 L421.00,374.16 L421.91,374.08 L422.82,374.00 L423.74,373.91 L424.65,373.82 L425.56,373.73 L426.48,373.64 L427.39,373.90 L428.30,375.60 L428.30,375.60 L427.39,377.40 L426.48,377.76 L425.56,377.77 L424.65,377.78 L423.74,377.79 L422.82,377.80 L421.91,377.82 L421.00,377.84 L420.09,377.88 L419.18,377.91 L418.26,377.95 L417.35,378.00 L416.44,378.05 L415.52,378.11 L414.61,378.17 L413.70,378.24 L412.79,378.32 L411.88,378.40 L410.96,378.49 L410.05,378.58 L409.14,378.67 L408.22,378.76 L407.31,378.50 L406.40,376.80Z" fill="#262626" filter="url(#bl)"/>
<rect x="445.70" y="369.80" width="53.70" height="13.20" fill="#d4d4d4" filter="url(#bl0)"/>
<path d="M447.50,377.40 L448.41,375.60 L449.32,375.24 L450.23,375.23 L451.13,375.22 L452.04,375.21 L452.95,375.20 L453.86,375.18 L454.77,375.16 L455.68,375.12 L456.58,375.09 L457.49,375.05 L458.40,375.00 L459.31,374.95 L460.22,374.89 L461.12,374.83 L462.03,374.76 L462.94,374.68 L463.85,374.60 L464.76,374.51 L465.67,374.42 L466.57,374.33 L467.48,374.24 L468.39,374.50 L469.30,376.20 L469.30,376.20 L468.39,378.00 L467.48,378.36 L466.57,378.38 L465.67,378.38 L464.76,378.39 L463.85,378.40 L462.94,378.42 L462.03,378.44 L461.12,378.48 L460.22,378.51 L459.31,378.55 L458.40,378.60 L457.49,378.65 L456.58,378.71 L455.68,378.77 L454.77,378.84 L453.86,378.92 L452.95,379.00 L452.04,379.09 L451.13,379.18 L450.23,379.27 L449.32,379.36 L448.41,379.10 L447.50,377.40Z" fill="#262626" filter="url(#bl)"/>
<path d="M475.40,376.40 L476.24,374.65 L477.07,374.26 L477.91,374.23 L478.75,374.22 L479.59,374.21 L480.42,374.20 L481.26,374.18 L482.10,374.16 L482.94,374.12 L483.77,374.09 L484.61,374.05 L485.45,374.00 L486.29,373.95 L487.12,373.89 L487.96,373.83 L488.80,373.76 L489.64,373.68 L490.48,373.60 L491.31,373.51 L492.15,373.42 L492.99,373.33 L493.82,373.26 L494.66,373.55 L495.50,375.20 L495.50,375.20 L494.66,376.95 L493.82,377.34 L492.99,377.38 L492.15,377.38 L491.31,377.39 L490.48,377.40 L489.64,377.42 L488.80,377.44 L487.96,377.48 L487.12,377.51 L486.29,377.55 L485.45,377.60 L484.61,377.65 L483.77,377.71 L482.94,377.77 L482.10,377.84 L481.26,377.92 L480.42,378.00 L479.59,378.09 L478.75,378.18 L477.91,378.27 L477.07,378.34 L476.24,378.05 L475.40,376.40Z" fill="#262626" filter="url(#bl)"/>
<path d="M516.70,376.20 L517.79,373.40 L518.88,372.59 L519.98,372.25 L521.07,372.22 L522.16,372.26 L523.25,372.30 L524.34,372.33 L525.43,372.36 L526.52,372.38 L527.62,372.39 L528.71,372.40 L529.80,372.40 L530.89,372.40 L531.98,372.39 L533.08,372.38 L534.17,372.36 L535.26,372.33 L536.35,372.30 L537.44,372.26 L538.53,372.22 L539.62,372.25 L540.72,372.59 L541.81,373.40 L542.90,376.20 L542.90,376.20 L541.81,379.00 L540.72,379.81 L539.62,380.15 L538.53,380.18 L537.44,380.14 L536.35,380.10 L535.26,380.07 L534.17,380.04 L533.08,380.02 L531.98,380.01 L530.89,380.00 L529.80,380.00 L528.71,380.00 L527.62,380.01 L526.52,380.02 L525.43,380.04 L524.34,380.07 L523.25,380.10 L522.16,380.14 L521.07,380.18 L519.98,380.15 L518.88,379.81 L517.79,379.00 L516.70,376.20Z" fill="#2a2a2a" filter="url(#bl2)"/>
<path d="M547.60,376.20 L548.57,373.54 L549.53,372.73 L550.50,372.34 L551.47,372.22 L552.43,372.26 L553.40,372.30 L554.37,372.33 L555.33,372.36 L556.30,372.38 L557.27,372.39 L558.23,372.40 L559.20,372.40 L560.17,372.40 L561.13,372.39 L562.10,372.38 L563.07,372.36 L564.03,372.33 L565.00,372.30 L565.97,372.26 L566.93,372.22 L567.90,372.34 L568.87,372.73 L569.83,373.54 L570.80,376.20 L570.80,376.20 L569.83,378.86 L568.87,379.67 L567.90,380.06 L566.93,380.18 L565.97,380.14 L565.00,380.10 L564.03,380.07 L563.07,380.04 L562.10,380.02 L561.13,380.01 L560.17,380.00 L559.20,380.00 L558.23,380.00 L557.27,380.01 L556.30,380.02 L555.33,380.04 L554.37,380.07 L553.40,380.10 L552.43,380.14 L551.47,380.18 L550.50,380.06 L549.53,379.67 L548.57,378.86 L547.60,376.20Z" fill="#2a2a2a" filter="url(#bl2)"/>
<path d="M593.80,376.00 L594.87,373.23 L595.93,372.42 L597.00,372.06 L598.07,372.02 L599.13,372.06 L600.20,372.10 L601.27,372.13 L602.33,372.16 L603.40,372.18 L604.47,372.19 L605.53,372.20 L606.60,372.20 L607.67,372.20 L608.73,372.19 L609.80,372.18 L610.87,372.16 L611.93,372.13 L613.00,372.10 L614.07,372.06 L615.13,372.02 L616.20,372.06 L617.27,372.42 L618.33,373.23 L619.40,376.00 L619.40,376.00 L618.33,378.77 L617.27,379.58 L616.20,379.94 L615.13,379.98 L614.07,379.94 L613.00,379.90 L611.93,379.87 L610.87,379.84 L609.80,379.82 L608.73,379.81 L607.67,379.80 L606.60,379.80 L605.53,379.80 L604.47,379.81 L603.40,379.82 L602.33,379.84 L601.27,379.87 L600.20,379.90 L599.13,379.94 L598.07,379.98 L597.00,379.94 L595.93,379.58 L594.87,378.77 L593.80,376.00Z" fill="#2a2a2a" filter="url(#bl2)"/>
<path d="M624.30,376.00 L625.28,373.32 L626.27,372.51 L627.25,372.12 L628.23,372.02 L629.22,372.06 L630.20,372.10 L631.18,372.13 L632.17,372.16 L633.15,372.18 L634.13,372.19 L635.12,372.20 L636.10,372.20 L637.08,372.20 L638.07,372.19 L639.05,372.18 L640.03,372.16 L641.02,372.13 L642.00,372.10 L642.98,372.06 L643.97,372.02 L644.95,372.12 L645.93,372.51 L646.92,373.32 L647.90,376.00 L647.90,376.00 L646.92,378.68 L645.93,379.49 L644.95,379.88 L643.97,379.98 L642.98,379.94 L642.00,379.90 L641.02,379.87 L640.03,379.84 L639.05,379.82 L638.07,379.81 L637.08,379.80 L636.10,379.80 L635.12,379.80 L634.13,379.81 L633.15,379.82 L632.17,379.84 L631.18,379.87 L630.20,379.90 L629.22,379.94 L628.23,379.98 L627.25,379.88 L626.27,379.49 L625.28,378.68 L624.30,376.00Z" fill="#2a2a2a" filter="url(#bl2)"/>
<path d="M664.30,379.10 L665.38,377.08 L666.46,376.71 L667.54,376.71 L668.62,376.70 L669.70,376.69 L670.77,376.68 L671.85,376.66 L672.93,376.63 L674.01,376.61 L675.09,376.57 L676.17,376.54 L677.25,376.50 L678.33,376.46 L679.41,376.41 L680.49,376.36 L681.57,376.30 L682.65,376.24 L683.73,376.18 L684.80,376.11 L685.88,376.03 L686.96,375.96 L688.04,375.88 L689.12,376.16 L690.20,378.10 L690.20,378.10 L689.12,380.12 L688.04,380.49 L686.96,380.49 L685.88,380.50 L684.80,380.51 L683.73,380.53 L682.65,380.54 L681.57,380.57 L680.49,380.59 L679.41,380.63 L678.33,380.66 L677.25,380.70 L676.17,380.74 L675.09,380.79 L674.01,380.84 L672.93,380.90 L671.85,380.96 L670.77,381.03 L669.70,381.09 L668.62,381.17 L667.54,381.24 L666.46,381.32 L665.38,381.04 L664.30,379.10Z" fill="#222" filter="url(#bl)"/>
<path d="M697.10,378.30 L698.17,376.22 L699.23,375.80 L700.30,375.78 L701.37,375.76 L702.43,375.73 L703.50,375.70 L704.57,375.66 L705.63,375.62 L706.70,375.57 L707.77,375.52 L708.83,375.46 L709.90,375.40 L710.97,375.33 L712.03,375.26 L713.10,375.18 L714.17,375.09 L715.23,375.00 L716.30,374.90 L717.37,374.80 L718.43,374.69 L719.50,374.58 L720.57,374.47 L721.63,374.75 L722.70,376.70 L722.70,376.70 L721.63,378.78 L720.57,379.20 L719.50,379.23 L718.43,379.24 L717.37,379.27 L716.30,379.30 L715.23,379.34 L714.17,379.38 L713.10,379.43 L712.03,379.48 L710.97,379.54 L709.90,379.60 L708.83,379.67 L707.77,379.74 L706.70,379.82 L705.63,379.91 L704.57,380.00 L703.50,380.10 L702.43,380.20 L701.37,380.31 L700.30,380.43 L699.23,380.53 L698.17,380.25 L697.10,378.30Z" fill="#222" filter="url(#bl)"/>
<path d="M739.80,379.30 L740.92,377.15 L742.05,376.75 L743.17,376.75 L744.30,376.76 L745.42,376.76 L746.55,376.75 L747.67,376.74 L748.80,376.72 L749.92,376.70 L751.05,376.67 L752.17,376.64 L753.30,376.60 L754.42,376.56 L755.55,376.51 L756.67,376.45 L757.80,376.39 L758.92,376.32 L760.05,376.25 L761.17,376.17 L762.30,376.09 L763.42,376.00 L764.55,375.92 L765.67,376.23 L766.80,378.30 L766.80,378.30 L765.67,380.45 L764.55,380.85 L763.42,380.85 L762.30,380.84 L761.17,380.84 L760.05,380.85 L758.92,380.86 L757.80,380.88 L756.67,380.90 L755.55,380.93 L754.42,380.96 L753.30,381.00 L752.17,381.04 L751.05,381.09 L749.92,381.15 L748.80,381.21 L747.67,381.28 L746.55,381.35 L745.42,381.43 L744.30,381.51 L743.17,381.60 L742.05,381.68 L740.92,381.37 L739.80,379.30Z" fill="#222" filter="url(#bl)"/>
<path d="M773.30,378.50 L774.38,376.26 L775.45,375.76 L776.52,375.71 L777.60,375.70 L778.67,375.68 L779.75,375.65 L780.82,375.61 L781.90,375.57 L782.98,375.51 L784.05,375.45 L785.12,375.38 L786.20,375.30 L787.27,375.21 L788.35,375.12 L789.42,375.01 L790.50,374.90 L791.58,374.78 L792.65,374.65 L793.73,374.51 L794.80,374.37 L795.88,374.21 L796.95,374.09 L798.02,374.43 L799.10,376.50 L799.10,376.50 L798.02,378.74 L796.95,379.24 L795.88,379.29 L794.80,379.30 L793.73,379.32 L792.65,379.35 L791.58,379.39 L790.50,379.43 L789.42,379.49 L788.35,379.55 L787.27,379.62 L786.20,379.70 L785.12,379.79 L784.05,379.88 L782.98,379.99 L781.90,380.10 L780.82,380.22 L779.75,380.35 L778.67,380.49 L777.60,380.63 L776.52,380.79 L775.45,380.91 L774.38,380.57 L773.30,378.50Z" fill="#222" filter="url(#bl)"/>
<line x1="297.60" y1="284.80" x2="297.60" y2="385.00" stroke="#808080" stroke-width="1.3"/>
<line x1="808.20" y1="284.80" x2="808.20" y2="385.00" stroke="#808080" stroke-width="1.3"/>
<line x1="367.10" y1="284.80" x2="367.10" y2="385.00" stroke="#808080" stroke-width="1.3"/>
<line x1="509.80" y1="284.80" x2="509.80" y2="385.00" stroke="#808080" stroke-width="1.3"/>
<line x1="656.00" y1="284.80" x2="656.00" y2="385.00" stroke="#808080" stroke-width="1.3"/>
<line x1="439.70" y1="300.70" x2="439.70" y2="385.00" stroke="#808080" stroke-width="1.3"/>
<line x1="587.10" y1="300.70" x2="587.10" y2="385.00" stroke="#808080" stroke-width="1.3"/>
<line x1="732.30" y1="300.70" x2="732.30" y2="385.00" stroke="#808080" stroke-width="1.3"/>
<line x1="403.60" y1="316.70" x2="403.60" y2="332.10" stroke="#808080" stroke-width="1.3"/>
<line x1="403.60" y1="352.10" x2="403.60" y2="367.40" stroke="#808080" stroke-width="1.3"/>
<line x1="474.80" y1="316.70" x2="474.80" y2="332.10" stroke="#808080" stroke-width="1.3"/>
<line x1="474.80" y1="352.10" x2="474.80" y2="367.40" stroke="#808080" stroke-width="1.3"/>
<line x1="548.00" y1="316.70" x2="548.00" y2="332.10" stroke="#808080" stroke-width="1.3"/>
<line x1="548.00" y1="352.10" x2="548.00" y2="367.40" stroke="#808080" stroke-width="1.3"/>
<line x1="621.20" y1="316.70" x2="621.20" y2="332.10" stroke="#808080" stroke-width="1.3"/>
<line x1="621.20" y1="352.10" x2="621.20" y2="367.40" stroke="#808080" stroke-width="1.3"/>
<line x1="694.10" y1="316.70" x2="694.10" y2="332.10" stroke="#808080" stroke-width="1.3"/>
<line x1="694.10" y1="352.10" x2="694.10" y2="367.40" stroke="#808080" stroke-width="1.3"/>
<line x1="770.70" y1="316.70" x2="770.70" y2="332.10" stroke="#808080" stroke-width="1.3"/>
<line x1="770.70" y1="352.10" x2="770.70" y2="367.40" stroke="#808080" stroke-width="1.3"/>
<line x1="297.60" y1="284.80" x2="808.20" y2="284.80" stroke="#5c5c5c" stroke-width="1.3"/>
<line x1="367.10" y1="300.70" x2="808.20" y2="300.70" stroke="#5c5c5c" stroke-width="1.3"/>
<line x1="367.10" y1="316.70" x2="808.20" y2="316.70" stroke="#5c5c5c" stroke-width="1.3"/>
<line x1="297.60" y1="332.10" x2="808.20" y2="332.10" stroke="#5c5c5c" stroke-width="1.3"/>
<line x1="297.60" y1="352.10" x2="808.20" y2="352.10" stroke="#5c5c5c" stroke-width="1.3"/>
<line x1="297.60" y1="367.40" x2="808.20" y2="367.40" stroke="#5c5c5c" stroke-width="1.3"/>
<line x1="297.60" y1="385.00" x2="808.20" y2="385.00" stroke="#5c5c5c" stroke-width="1.3"/>
<text x="316.20" y="315.30" font-size="20" text-anchor="start" fill="#000" font-weight="bold">d</text>
<text x="439.00" y="296.70" font-size="10.6" text-anchor="middle" fill="#6a6a6a" stroke="#6a6a6a" stroke-width="0.3" textLength="24.00" lengthAdjust="spacingAndGlyphs">HGrC1</text>
<text x="582.70" y="296.70" font-size="10.6" text-anchor="middle" fill="#6a6a6a" stroke="#6a6a6a" stroke-width="0.3" textLength="28.40" lengthAdjust="spacingAndGlyphs">COV434</text>
<text x="732.20" y="296.70" font-size="10.6" text-anchor="middle" fill="#000" stroke="#000" stroke-width="0.3" textLength="16.00" lengthAdjust="spacingAndGlyphs">KGN</text>
<text x="373.80" y="313.50" font-size="10.6" text-anchor="start" fill="#000" stroke="#000" stroke-width="0.3" textLength="13.80" lengthAdjust="spacingAndGlyphs">ERα</text>
<text x="475.00" y="313.50" font-size="10.6" text-anchor="middle" fill="#000" stroke="#000" stroke-width="0.3" textLength="14.10" lengthAdjust="spacingAndGlyphs">ERβ</text>
<text x="548.70" y="313.50" font-size="10.6" text-anchor="middle" fill="#000" stroke="#000" stroke-width="0.3" textLength="14.80" lengthAdjust="spacingAndGlyphs">ERα</text>
<text x="621.30" y="313.50" font-size="10.6" text-anchor="middle" fill="#000" stroke="#000" stroke-width="0.3" textLength="14.10" lengthAdjust="spacingAndGlyphs">ERβ</text>
<text x="694.20" y="313.50" font-size="10.6" text-anchor="middle" fill="#6a6a6a" stroke="#6a6a6a" stroke-width="0.3" textLength="15.00" lengthAdjust="spacingAndGlyphs">ERα</text>
<text x="770.30" y="313.50" font-size="10.6" text-anchor="middle" fill="#6a6a6a" stroke="#6a6a6a" stroke-width="0.3" textLength="14.00" lengthAdjust="spacingAndGlyphs">ERβ</text>
<text x="373.80" y="328.80" font-size="10.6" text-anchor="start" fill="#000" stroke="#000" stroke-width="0.3" textLength="4.80" lengthAdjust="spacingAndGlyphs">C</text>
<text x="409.20" y="328.80" font-size="10.6" text-anchor="start" fill="#000" stroke="#000" stroke-width="0.3" textLength="12.70" lengthAdjust="spacingAndGlyphs">L40</text>
<text x="457.50" y="328.80" font-size="10.6" text-anchor="middle" fill="#000" stroke="#000" stroke-width="0.3" textLength="4.80" lengthAdjust="spacingAndGlyphs">C</text>
<text x="492.40" y="328.80" font-size="10.6" text-anchor="middle" fill="#000" stroke="#000" stroke-width="0.3" textLength="12.70" lengthAdjust="spacingAndGlyphs">L40</text>
<text x="529.00" y="328.80" font-size="10.6" text-anchor="middle" fill="#000" stroke="#000" stroke-width="0.3" textLength="4.80" lengthAdjust="spacingAndGlyphs">C</text>
<text x="566.90" y="328.80" font-size="10.6" text-anchor="middle" fill="#000" stroke="#000" stroke-width="0.3" textLength="12.70" lengthAdjust="spacingAndGlyphs">L40</text>
<text x="604.30" y="328.80" font-size="10.6" text-anchor="middle" fill="#000" stroke="#000" stroke-width="0.3" textLength="4.80" lengthAdjust="spacingAndGlyphs">C</text>
<text x="639.10" y="328.80" font-size="10.6" text-anchor="middle" fill="#000" stroke="#000" stroke-width="0.3" textLength="12.70" lengthAdjust="spacingAndGlyphs">L40</text>
<text x="675.00" y="328.80" font-size="10.6" text-anchor="middle" fill="#6a6a6a" stroke="#6a6a6a" stroke-width="0.3" textLength="4.80" lengthAdjust="spacingAndGlyphs">C</text>
<text x="713.40" y="328.80" font-size="10.6" text-anchor="middle" fill="#6a6a6a" stroke="#6a6a6a" stroke-width="0.3" textLength="12.70" lengthAdjust="spacingAndGlyphs">L40</text>
<text x="751.50" y="328.80" font-size="10.6" text-anchor="middle" fill="#6a6a6a" stroke="#6a6a6a" stroke-width="0.3" textLength="4.80" lengthAdjust="spacingAndGlyphs">C</text>
<text x="789.60" y="328.80" font-size="10.6" text-anchor="middle" fill="#6a6a6a" stroke="#6a6a6a" stroke-width="0.3" textLength="12.70" lengthAdjust="spacingAndGlyphs">L40</text>
<text x="304.20" y="344.60" font-size="10.0" text-anchor="start" fill="#000" stroke="#000" stroke-width="0.3" textLength="9.30" lengthAdjust="spacingAndGlyphs">ER</text>
<text x="304.20" y="364.30" font-size="10.6" text-anchor="start" fill="#000" stroke="#000" stroke-width="0.3" textLength="56.70" lengthAdjust="spacingAndGlyphs">ER/β-actin ratio</text>
<text x="304.20" y="379.60" font-size="10.6" text-anchor="start" fill="#000" stroke="#000" stroke-width="0.3" textLength="24.90" lengthAdjust="spacingAndGlyphs">β-actin</text>
<text x="374.30" y="364.80" font-size="10.6" text-anchor="start" fill="#000" stroke="#000" stroke-width="0.3" textLength="14.80" lengthAdjust="spacingAndGlyphs">1,00</text>
<text x="410.30" y="364.80" font-size="10.6" text-anchor="start" fill="#000" stroke="#000" stroke-width="0.3" textLength="14.80" lengthAdjust="spacingAndGlyphs">1,01</text>
<text x="445.80" y="364.80" font-size="10.6" text-anchor="start" fill="#000" stroke="#000" stroke-width="0.3" textLength="15.60" lengthAdjust="spacingAndGlyphs">2,04</text>
<text x="462.60" y="359.50" font-size="7.5" text-anchor="start" fill="#000" stroke="#000" stroke-width="0.3" textLength="4.60" lengthAdjust="spacingAndGlyphs">**</text>
<text x="481.30" y="364.80" font-size="10.6" text-anchor="start" fill="#000" stroke="#000" stroke-width="0.3" textLength="14.80" lengthAdjust="spacingAndGlyphs">1,79</text>
<text x="497.30" y="359.50" font-size="7.5" text-anchor="start" fill="#000" stroke="#000" stroke-width="0.3" textLength="4.60" lengthAdjust="spacingAndGlyphs">**</text>
<text x="516.70" y="364.80" font-size="10.6" text-anchor="start" fill="#000" stroke="#000" stroke-width="0.3" textLength="15.20" lengthAdjust="spacingAndGlyphs">1,00</text>
<text x="554.70" y="364.80" font-size="10.6" text-anchor="start" fill="#000" stroke="#000" stroke-width="0.3" textLength="15.10" lengthAdjust="spacingAndGlyphs">1,09</text>
<text x="592.80" y="364.80" font-size="10.6" text-anchor="start" fill="#484848" stroke="#484848" stroke-width="0.15" textLength="15.00" lengthAdjust="spacingAndGlyphs">0,66</text>
<text x="609.00" y="359.50" font-size="7.5" text-anchor="start" fill="#484848" stroke="#484848" stroke-width="0.3" textLength="2.00" lengthAdjust="spacingAndGlyphs">*</text>
<text x="627.20" y="364.80" font-size="10.6" text-anchor="start" fill="#484848" stroke="#484848" stroke-width="0.15" textLength="14.80" lengthAdjust="spacingAndGlyphs">0,71</text>
<text x="643.20" y="359.50" font-size="7.5" text-anchor="start" fill="#484848" stroke="#484848" stroke-width="0.3" textLength="2.00" lengthAdjust="spacingAndGlyphs">*</text>
<text x="662.30" y="364.80" font-size="10.6" text-anchor="start" fill="#383838" stroke="#383838" stroke-width="0.15" textLength="15.10" lengthAdjust="spacingAndGlyphs">1,00</text>
<text x="700.00" y="364.80" font-size="10.6" text-anchor="start" fill="#383838" stroke="#383838" stroke-width="0.15" textLength="15.80" lengthAdjust="spacingAndGlyphs">0,94</text>
<text x="739.00" y="364.80" font-size="10.6" text-anchor="start" fill="#383838" stroke="#383838" stroke-width="0.15" textLength="15.00" lengthAdjust="spacingAndGlyphs">1,15</text>
<text x="776.60" y="364.80" font-size="10.6" text-anchor="start" fill="#383838" stroke="#383838" stroke-width="0.15" textLength="15.50" lengthAdjust="spacingAndGlyphs">0,98</text>
</svg>
</body></html>
